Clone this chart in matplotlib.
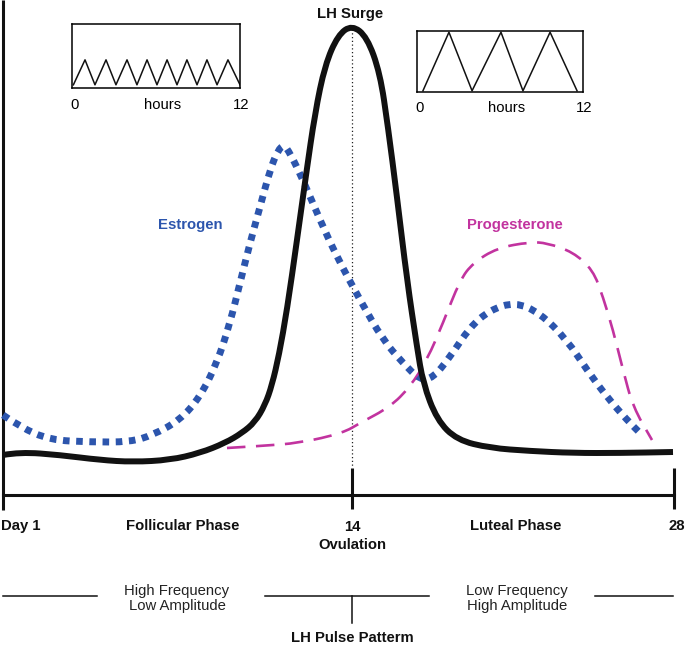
import matplotlib
matplotlib.use("Agg")
import matplotlib.pyplot as plt
from matplotlib.path import Path
from matplotlib.patches import PathPatch

plt.rcParams['font.family'] = ['Liberation Sans', 'DejaVu Sans']

# hormone curves: position across the cycle (x) and level above the day axis
lh_x = [3, 20, 60, 100, 133, 170, 200, 225, 242, 255, 265, 272, 279, 287, 297, 306,
        315, 325, 338, 352, 367, 380, 388, 397, 407, 417, 423, 437, 457, 490, 530,
        573, 620, 673]
lh_y = [40, 43, 40, 35, 33, 35, 42, 52, 62, 73, 90, 110, 140, 185, 255, 320,
        382, 430, 460, 470, 458, 422, 368, 298, 215, 148, 112, 75, 55, 47, 44,
        42, 42, 43]

estrogen_x = [3, 20, 50, 90, 130, 153, 180, 200, 217, 230, 240, 250, 260, 270, 278, 284,
              290, 303, 320, 337, 360, 383, 403, 420, 433, 450, 470, 490, 515, 540, 567,
              587, 607, 627, 642]
estrogen_y = [80, 68, 55, 53, 53, 60, 75, 98, 132, 172, 212, 252, 288, 325, 345, 350,
              342, 315, 275, 238, 195, 155, 132, 115, 117, 138, 168, 185, 193, 182, 155,
              125, 98, 75, 60]

progesterone_x = [227, 260, 300, 343, 360, 390, 410, 427, 443, 460, 473, 497, 530, 547,
                  573, 593, 603, 613, 623, 633, 652]
progesterone_y = [47, 49, 52, 62, 72, 88, 108, 135, 172, 215, 232, 247, 253, 252,
                  243, 225, 198, 165, 125, 88, 55]

# LH pulse insets (hours, relative amplitude)
fast_t = [0.1, 0.93, 1.64, 2.43, 3.14, 3.93, 4.64, 5.36, 6.07, 6.79, 7.5, 8.21,
          8.93, 9.64, 10.36, 11.14, 12.0]
fast_v = [0.05, 0.44] * 8 + [0.05]
slow_t = [0.43, 2.31, 3.98, 6.07, 7.66, 9.62, 11.57]
slow_v = [0.02, 0.98, 0.02, 0.98, 0.02, 0.98, 0.02]

day_ticks = [3, 352, 674]
day_labels = ['Day 1', '14', '28']

blue = '#2c55ad'
magenta = '#c2339f'


def smooth(ax, xs, ys, **kw):
    verts = [(xs[0], ys[0])]
    codes = [Path.MOVETO]
    for i in range(1, len(xs) - 1):
        mx = (xs[i] + xs[i + 1]) / 2
        my = (ys[i] + ys[i + 1]) / 2
        verts += [(xs[i], ys[i]), (mx, my)]
        codes += [Path.CURVE3, Path.CURVE3]
    verts.append((xs[-1], ys[-1]))
    codes.append(Path.LINETO)
    ax.add_patch(PathPatch(Path(verts, codes), fill=False, **kw))


fig = plt.figure(figsize=(6.85, 6.46), dpi=100)
ax = fig.add_axes([0, 0, 1, 1])
ax.set_xlim(0, 685)
ax.set_ylim(-151, 495)
ax.axis('off')

# axes frame
ax.plot([3, 3], [495, -15], color='#111111', lw=2.2, solid_capstyle='butt')
ax.plot([3, 674], [0, 0], color='#111111', lw=2.2)
for t in day_ticks[1:]:
    ax.plot([t, t], [27, -14], color='#111111', lw=2.2, solid_capstyle='butt')
ax.plot([352, 352], [466, 29], color='#222222', lw=0.9, ls=(0, (1, 2)))

smooth(ax, progesterone_x, progesterone_y, edgecolor=magenta, lw=1.9,
       linestyle=(0, (7, 4)), capstyle='butt', zorder=3)
smooth(ax, estrogen_x, estrogen_y, edgecolor=blue, lw=5,
       linestyle=(0, (0.95, 0.95)), capstyle='butt', zorder=4)
smooth(ax, lh_x, lh_y, edgecolor='#111111', lw=4.3, capstyle='butt',
       joinstyle='round', zorder=5)

fs = 10.7
bold = dict(fontsize=fs, fontweight='bold', color='#111111')
ax.text(1, -31, day_labels[0], ha='left', va='center', **bold)
ax.text(352, -32, day_labels[1], ha='center', va='center', **bold)
ax.text(685, -31, day_labels[2], ha='right', va='center', **bold)
ax.text(183, -31, 'Follicular Phase', ha='center', va='center', **bold)
ax.text(516, -31, 'Luteal Phase', ha='center', va='center', **bold)
ax.text(352, -50, 'Ovulation', ha='center', va='center', **bold)
ax.text(350, 481, 'LH Surge', ha='center', va='center', **bold)
ax.text(190, 270, 'Estrogen', ha='center', va='center', fontsize=fs,
        fontweight='bold', color=blue)
ax.text(515, 270, 'Progesterone', ha='center', va='center', fontsize=fs,
        fontweight='bold', color=magenta)

# LH pulse pattern bracket
for x0, x1 in [(3, 97), (265, 429), (595, 673)]:
    ax.plot([x0, x1], [-101, -101], color='#111111', lw=1.1)
ax.plot([352, 352], [-101, -128], color='#111111', lw=1.1)
ax.text(352, -143, 'LH Pulse Patterm', ha='center', va='center', **bold)
ax.text(177, -103.5, 'High Frequency\nLow Amplitude', ha='center', va='center',
        fontsize=fs, linespacing=1.12, color='#222222')
ax.text(517, -103.5, 'Low Frequency\nHigh Amplitude', ha='center', va='center',
        fontsize=fs, linespacing=1.12, color='#222222')

# pulse insets
for box, t, v in [([72, 88, 168, 64], fast_t, fast_v),
                  ([417, 92, 166, 61], slow_t, slow_v)]:
    left, bottom, w, h = box
    ia = fig.add_axes([left / 685, 1 - bottom / 646, w / 685, h / 646])
    ia.plot(t, v, color='#111111', lw=1.1)
    ia.set_xlim(0, 12)
    ia.set_ylim(0, 1)
    ia.set_xticks([])
    ia.set_yticks([])
    for s in ia.spines.values():
        s.set_linewidth(1.1)
    ia.text(0.2, -0.27, '0', ha='center', va='center', fontsize=fs)
    ia.text(6.5, -0.27, 'hours', ha='center', va='center', fontsize=fs)
    ia.text(12.1, -0.27, '12', ha='center', va='center', fontsize=fs)

fig.savefig('out.png', dpi=100)
